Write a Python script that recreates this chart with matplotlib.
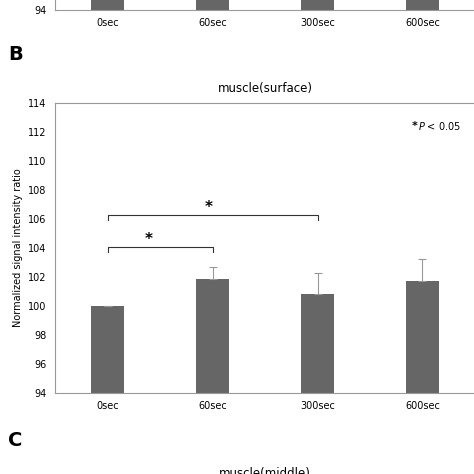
import matplotlib.pyplot as plt

categories = ["0sec", "60sec", "300sec", "600sec"]
values = [100.0, 101.85, 100.85, 101.75]
errors = [0.0, 0.85, 1.4, 1.5]
top_values = [100.0, 101.0, 100.5, 101.0]
yticks = list(range(94, 115, 2))

bar_color = "#666666"
spine_color = "#999999"

fig = plt.figure(figsize=(4.74, 4.74), dpi=100)

def style(ax):
    for s in ax.spines.values():
        s.set_color(spine_color)
        s.set_linewidth(0.8)
    ax.tick_params(length=0, labelsize=7, pad=6)
    ax.set_xlim(-0.5, 3.5)
    ax.set_ylim(94, 114)

# bottom of panel A (cut off at top)
axA = fig.add_axes([55/474, 1 - 10/474, 420/474, 290/474])
axA.bar(range(4), top_values, width=0.31, bottom=0, color=bar_color)
style(axA)
axA.set_yticks([94])
axA.set_xticks(range(4))
axA.set_xticklabels(categories)
axA.spines["right"].set_visible(False)

# panel B
ax = fig.add_axes([55/474, 1 - 393/474, 420/474, 290/474])
ax.bar(range(4), values, width=0.31, color=bar_color,
       yerr=[[0]*4, errors], error_kw=dict(ecolor=spine_color, elinewidth=0.8, capsize=3, capthick=0.8))
style(ax)
ax.set_yticks(yticks)
ax.set_xticks(range(4))
ax.set_xticklabels(categories)
ax.set_ylabel("Normalized signal intensity ratio", fontsize=7)
ax.set_title("muscle(surface)", fontsize=8.5, pad=8)
ax.spines["right"].set_visible(False)

# significance brackets
for x2, sx, y in [(1, 0.39, 104.05), (2, 0.96, 106.25)]:
    ax.plot([0, 0, x2, x2], [y - 0.35, y, y, y - 0.35], color="#333333", lw=0.8)
    ax.text(sx, y + 0.05, "*", ha="center", va="bottom", fontsize=11, fontweight="bold")
ax.text(2.95, 112.4, "*", ha="right", va="center", fontsize=8, fontweight="bold")
ax.text(2.96, 112.4, "$P$ < 0.05", ha="left", va="center", fontsize=7)

fig.text(8/474, 1 - 55/474, "B", fontsize=14, fontweight="bold", va="center")
fig.text(8/474, 1 - 440/474, "C", fontsize=14, fontweight="bold", va="center")
fig.text(265/474, 1 - 474/474, "muscle(middle)", fontsize=8.5, ha="center", va="center")

fig.savefig("out.png", dpi=100)
